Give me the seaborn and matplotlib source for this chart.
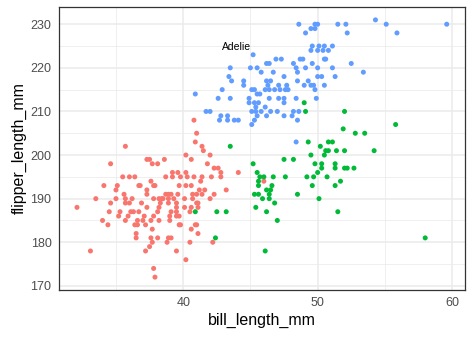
import matplotlib
matplotlib.use("Agg")
import matplotlib.pyplot as plt
from matplotlib.ticker import MultipleLocator
import seaborn as sns
import pandas as pd

# bill length (mm) and flipper length (mm) per species
adelie_bill = [
    40.8, 41.0, 40.9, 35.7, 40.2, 40.6, 37.3, 37.5, 38.6, 37.7, 38.1, 34.6,
    35.5, 36.0, 36.4, 38.7, 39.2, 39.2, 39.6, 40.2, 40.3, 40.8, 37.6, 34.1,
    35.1, 36.7, 36.8, 37.8, 37.9, 39.7, 40.2, 40.6, 35.0, 37.3, 35.6, 37.3,
    38.7, 38.9, 39.1, 39.6, 41.0, 33.5, 35.0, 35.7, 36.2, 38.2, 38.4, 38.9,
    39.3, 40.1, 40.7,
    34.6, 35.7, 36.0, 36.9, 38.3, 38.9, 39.5,
    32.1, 37.3, 38.2, 39.5, 40.1, 40.6,
    34.5, 35.3, 36.1, 36.3, 36.7, 38.1, 39.1, 40.5,
    35.2, 35.9, 37.1, 37.8, 39.0, 39.5, 39.7,
    34.0, 35.7, 36.6, 37.0, 37.6, 38.2, 39.0,
    34.4, 36.4, 36.6, 37.2, 39.7, 39.8, 40.9,
    37.7, 40.6, 36.5, 36.5, 37.6, 38.1, 38.9, 39.1,
    37.7, 38.8, 40.5, 37.5, 33.1, 37.2, 39.5, 40.2, 37.8, 37.9,
    41.4, 41.5, 42.0, 41.8, 42.3, 42.6, 42.8, 44.1, 41.4, 42.1, 41.3, 41.2,
    41.6, 43.2, 41.4, 42.3, 46.0, 42.8,
    42.0, 41.0, 41.1, 41.0, 41.1, 42.2,
    37.8, 38.5, 41.1, 39.8, 40.7, 39.5,
]
adelie_flipper = [
    208, 205, 203, 202, 200, 199, 199, 199, 199, 198, 198, 198,
    195, 195, 195, 195, 195, 196, 196, 196, 195, 195, 194, 193,
    193, 193, 193, 193, 193, 193, 193, 193, 192, 192, 191, 191,
    191, 191, 191, 191, 191, 190, 190, 190, 190, 190, 190, 190,
    190, 190, 190,
    189, 189, 189, 189, 189, 189, 189,
    188, 188, 188, 188, 188, 188,
    187, 187, 187, 187, 187, 187, 187, 187,
    186, 186, 186, 186, 186, 186, 186,
    185, 185, 185, 185, 185, 185, 185,
    184, 184, 184, 184, 184, 184, 184,
    183, 183, 182, 181, 181, 181, 181, 181,
    180, 180, 180, 179, 178, 178, 178, 176, 174, 172,
    202, 201, 200, 198, 197, 197, 196, 196, 195, 195, 194, 192,
    192, 192, 191, 191, 194, 195,
    190, 189, 188, 184, 182, 180,
    190, 190, 189, 195, 191, 187,
]

chinstrap_bill = [
    49.0, 49.1, 43.5, 49.3, 50.2, 50.8, 50.6, 50.8, 49.5, 50.5, 47.5, 48.2,
    45.2, 49.8, 50.3, 50.3, 45.5, 50.0, 45.7, 46.0, 46.7, 47.6, 49.2, 49.7,
    50.7, 45.6, 45.6, 46.6, 49.6, 46.2, 46.5, 45.3, 45.6, 46.4, 48.5, 50.1,
    52.0, 55.8, 51.9, 52.8, 53.5, 51.1, 51.4, 52.0, 54.2, 51.3, 51.3, 52.0,
    52.2, 52.7, 51.7, 51.3,
    45.9, 46.4, 46.8, 45.4, 42.5, 43.2, 46.2, 47.0, 42.4, 46.1,
    40.9, 51.5, 58.0,
]
chinstrap_flipper = [
    212, 210, 202, 203, 202, 203, 201, 201, 200, 200, 199, 199,
    198, 198, 198, 197, 196, 196, 195, 195, 195, 195, 195, 195,
    195, 194, 193, 193, 193, 192, 192, 191, 191, 191, 191, 190,
    210, 207, 206, 205, 205, 203, 201, 201, 201, 198, 197, 197,
    197, 197, 194, 193,
    190, 190, 189, 188, 187, 187, 187, 185, 181, 178,
    187, 187, 181,
]

gentoo_bill = [
    48.6, 49.8, 50.0, 49.5, 49.8, 49.1, 49.6, 50.1, 50.5, 49.5, 50.0, 50.4,
    50.8, 45.2, 50.6, 46.9, 47.3, 48.7, 48.9, 50.5, 46.2, 46.4, 48.2, 49.6,
    43.5, 45.0, 45.5, 48.4, 49.1, 50.0, 48.5, 45.8, 46.7, 43.4, 47.5, 50.0,
    50.3, 43.6, 44.5, 46.2, 46.5, 48.5, 49.3, 44.5, 46.3, 47.1, 47.7, 49.0,
    49.5, 49.7, 50.5, 42.9, 45.1, 45.3, 46.1, 46.4, 46.8, 47.2, 47.6, 47.8,
    49.8, 45.5, 45.7, 40.9, 42.6, 43.5, 44.9, 46.4, 47.1, 47.5, 48.4, 49.9,
    44.9, 45.3, 45.6, 47.5, 45.4, 46.1, 41.7, 42.0, 45.1, 45.4, 45.8, 46.5,
    47.0, 48.2, 48.6, 42.8, 43.3, 45.5, 46.2, 47.5, 48.1, 42.7, 43.3, 43.8,
    44.1, 45.3, 48.5, 45.1, 48.4,
    51.5, 52.1, 55.1, 59.6, 52.2, 55.9, 54.3, 51.1, 52.5, 51.1, 51.3, 53.4,
]
gentoo_flipper = [
    230, 230, 230, 229, 229, 228, 225, 225, 225, 224, 224, 224,
    224, 223, 222, 222, 222, 222, 222, 222, 221, 221, 221, 221,
    220, 220, 220, 220, 220, 220, 219, 219, 219, 218, 218, 218,
    218, 217, 217, 217, 217, 217, 217, 216, 216, 216, 216, 216,
    216, 216, 216, 215, 215, 215, 215, 215, 215, 215, 215, 215,
    215, 214, 214, 214, 213, 213, 213, 213, 213, 213, 213, 213,
    212, 212, 212, 212, 211, 211, 210, 210, 210, 210, 210, 210,
    210, 210, 210, 209, 209, 209, 209, 209, 209, 208, 208, 208,
    208, 208, 208, 207, 203,
    230, 230, 230, 230, 228, 228, 231, 225, 221, 220, 218, 219,
]

species_names = ["Adelie", "Chinstrap", "Gentoo"]
species_colors = ["#F8766D", "#00BA38", "#619CFF"]

df = pd.concat([
    pd.DataFrame({"bill_length_mm": adelie_bill, "flipper_length_mm": adelie_flipper, "species": "Adelie"}),
    pd.DataFrame({"bill_length_mm": chinstrap_bill, "flipper_length_mm": chinstrap_flipper, "species": "Chinstrap"}),
    pd.DataFrame({"bill_length_mm": gentoo_bill, "flipper_length_mm": gentoo_flipper, "species": "Gentoo"}),
], ignore_index=True)

sns.set_style("white")
plt.rcParams["font.family"] = ["Liberation Sans", "DejaVu Sans"]

fig = plt.figure(figsize=(4.74, 3.38), dpi=100)
ax = fig.add_axes([58.5 / 474, 48 / 338, (465.2 - 58.5) / 474, 283 / 338])

sns.scatterplot(
    data=df, x="bill_length_mm", y="flipper_length_mm", hue="species",
    hue_order=species_names, palette=species_colors, s=13, linewidth=0,
    legend=False, ax=ax, zorder=3,
)

ax.text(44.0, 224.7, "Adelie", ha="center", va="center", fontsize=7.5, color="black", zorder=4)

ax.set_xlim(30.725, 60.975)
ax.set_ylim(169.05, 233.95)
ax.xaxis.set_major_locator(MultipleLocator(10))
ax.xaxis.set_minor_locator(MultipleLocator(5))
ax.yaxis.set_major_locator(MultipleLocator(10))
ax.yaxis.set_minor_locator(MultipleLocator(5))

ax.grid(which="major", color="#EBEBEB", linewidth=1.1, zorder=0)
ax.grid(which="minor", color="#EBEBEB", linewidth=0.55, zorder=0)
ax.set_axisbelow(True)
for sp in ax.spines.values():
    sp.set_color("#333333")
    sp.set_linewidth(0.9)

ax.tick_params(axis="both", which="major", direction="out", length=3, width=0.8,
               color="#333333", labelcolor="#4D4D4D", labelsize=9, pad=2)
ax.tick_params(axis="both", which="minor", length=0)

ax.set_xlabel("bill_length_mm", fontsize=11.5, color="black", labelpad=3)
ax.set_ylabel("flipper_length_mm", fontsize=11.5, color="black", labelpad=3)

fig.savefig("out.png", dpi=100, facecolor="white")
